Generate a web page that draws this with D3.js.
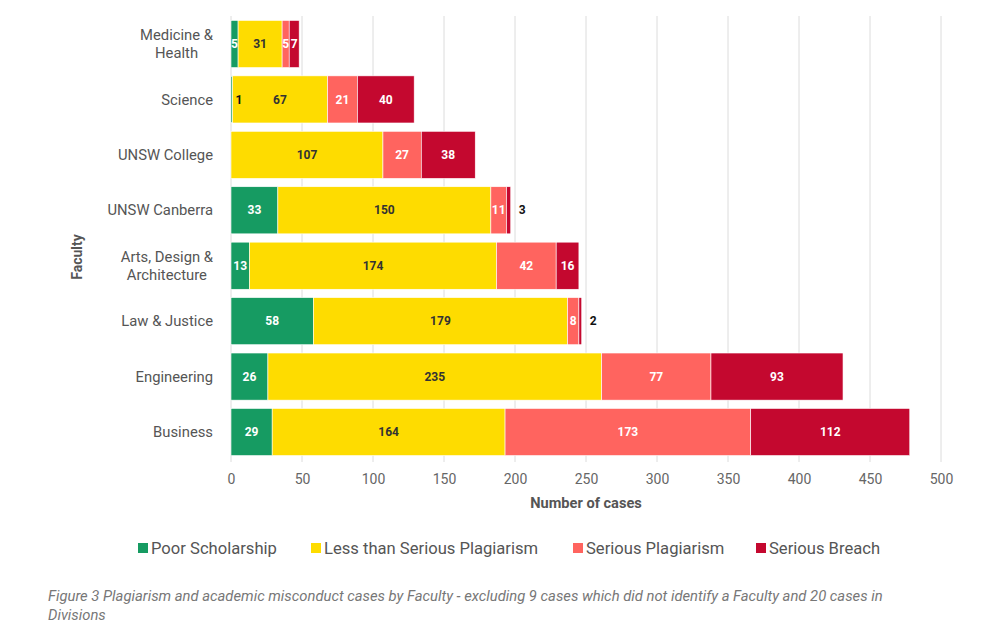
<!DOCTYPE html>
<html>
<head>
<script src="https://d3js.org/d3.v7.min.js"></script>
<style>
  body { margin: 0; background: #fff; font-family: Roboto, "Noto Sans", sans-serif; }
</style>
</head>
<body>
<svg width="1000" height="640"></svg>
<script>
// data, top to bottom
const faculties = ['Medicine & Health', 'Science', 'UNSW College', 'UNSW Canberra',
  'Arts, Design & Architecture', 'Law & Justice', 'Engineering', 'Business'];
const series = ['Poor Scholarship', 'Less than Serious Plagiarism', 'Serious Plagiarism', 'Serious Breach'];
const poorScholarship = [5, 1, 0, 33, 13, 58, 26, 29];
const lessSerious = [31, 67, 107, 150, 174, 179, 235, 164];
const seriousPlagiarism = [5, 21, 27, 11, 42, 8, 77, 173];
const seriousBreach = [7, 40, 38, 3, 16, 2, 93, 112];
const xTicks = [0, 50, 100, 150, 200, 250, 300, 350, 400, 450, 500];

const colors = ['#169b62', '#fedc00', '#ff645f', '#c4082f'];
const labelColors = ['#fff', '#333', '#fff', '#fff'];

// line breaks for long names
const wrap = {
  'Medicine & Health': ['Medicine &', 'Health'],
  'Arts, Design & Architecture': ['Arts, Design &', 'Architecture']
};

const rows = faculties.map((f, i) => ({
  faculty: f,
  'Poor Scholarship': poorScholarship[i],
  'Less than Serious Plagiarism': lessSerious[i],
  'Serious Plagiarism': seriousPlagiarism[i],
  'Serious Breach': seriousBreach[i]
}));

const svg = d3.select('svg');

let x = d3.scaleLinear().domain([0, 500]).range([231, 941]);
let y = d3.scaleBand().domain(faculties).range([16, 460]).paddingInner(0.15).paddingOuter(0.08);

// grid
svg.append('g')
  .selectAll('line')
  .data(xTicks)
  .join('line')
  .attr('x1', d => x(d)).attr('x2', d => x(d))
  .attr('y1', 16).attr('y2', 462)
  .attr('stroke', '#dcdcdc')
  .attr('stroke-width', 1);

// axis (labels only)
const ax = svg.append('g')
  .attr('transform', 'translate(0,462)')
  .call(d3.axisBottom(x).tickValues(xTicks).tickSize(0).tickPadding(12));
ax.select('.domain').remove();
ax.selectAll('text').attr('font-size', 14).attr('fill', '#666').attr('font-family', 'Roboto');

const stacked = d3.stack().keys(series)(rows);

const layer = svg.append('g')
  .selectAll('g')
  .data(stacked)
  .join('g')
  .attr('fill', (d, i) => colors[i]);

layer.selectAll('rect')
  .data(d => d)
  .join('rect')
  .attr('x', d => x(d[0]))
  .attr('y', d => y(d.data.faculty))
  .attr('width', d => x(d[1]) - x(d[0]))
  .attr('height', y.bandwidth())
  .attr('stroke', '#fff')
  .attr('stroke-width', 0.6);

// value labels
stacked.forEach((s, si) => {
  svg.append('g')
    .selectAll('text')
    .data(s.filter(d => d[1] - d[0] > 0))
    .join('text')
    .each(function(d) {
      let w = x(d[1]) - x(d[0]);
      let t = d3.select(this);
      let v = d[1] - d[0];
      t.text(v)
        .attr('y', y(d.data.faculty) + y.bandwidth() / 2)
        .attr('dy', '0.35em')
        .attr('font-size', 12)
        .attr('font-weight', 'bold');
      if (w < 6) {
        // too thin: put the number beside the bar
        let xx = si == series.length - 1 ? x(d[1]) + 8 : x(d[1]) + 3;
        t.attr('x', xx).attr('text-anchor', 'start').attr('fill', '#111');
      } else {
        t.attr('x', (x(d[0]) + x(d[1])) / 2).attr('text-anchor', 'middle')
          .attr('fill', labelColors[si]);
      }
    });
});

// category labels (wrapped ones are centred as a block, block right-aligned)
const cat = svg.append('g')
  .selectAll('text')
  .data(faculties)
  .join('text')
  .attr('font-size', 14.8)
  .attr('fill', '#555')
  .attr('y', d => y(d) + y.bandwidth() / 2);
cat.each(function(d) {
  let lines = wrap[d] || [d];
  let t = d3.select(this);
  let spans = t.selectAll('tspan')
    .data(lines)
    .join('tspan')
    .attr('dy', (l, i) => i == 0 ? (0.35 - (lines.length - 1) * 0.6) + 'em' : '1.2em')
    .text(l => l);
  if (lines.length > 1) {
    let maxW = d3.max(spans.nodes(), n => n.getComputedTextLength());
    t.attr('text-anchor', 'middle');
    spans.attr('x', 213 - maxW / 2);
  } else {
    t.attr('text-anchor', 'end');
    spans.attr('x', 213);
  }
});

// axis titles
svg.append('text')
  .attr('x', x(250)).attr('y', 508)
  .attr('text-anchor', 'middle')
  .attr('font-size', 14.6).attr('font-weight', 'bold').attr('fill', '#555')
  .text('Number of cases');

svg.append('text')
  .attr('transform', 'translate(82,257) rotate(-90)')
  .attr('text-anchor', 'middle')
  .attr('font-size', 14).attr('font-weight', 'bold').attr('fill', '#555')
  .text('Faculty');

// legend
const legendX = [138, 311, 573, 756];
const leg = svg.append('g')
  .selectAll('g')
  .data(series)
  .join('g')
  .attr('transform', (d, i) => `translate(${legendX[i]},548)`);
leg.append('rect')
  .attr('x', 0).attr('y', -5)
  .attr('width', 10).attr('height', 10)
  .attr('fill', (d, i) => colors[i]);
leg.append('text')
  .attr('x', 13).attr('dy', '0.35em')
  .attr('font-size', 16.6).attr('fill', '#555')
  .text(d => d);

// caption
const cap = svg.append('text')
  .attr('font-size', 14.8).attr('font-style', 'italic').attr('fill', '#777');
cap.append('tspan').attr('x', 48).attr('y', 601)
  .text('Figure 3 Plagiarism and academic misconduct cases by Faculty - excluding 9 cases which did not identify a Faculty and 20 cases in');
cap.append('tspan').attr('x', 48).attr('y', 620).text('Divisions');
</script>
</body>
</html>
